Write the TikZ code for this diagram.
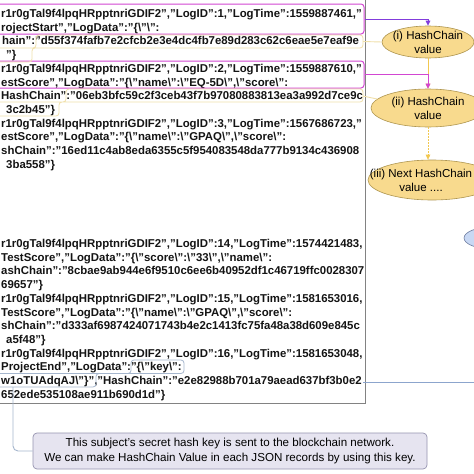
\documentclass[tikz,border=0pt]{standalone}
\usepackage{fontspec}
\setmainfont{Liberation Sans}
\usetikzlibrary{arrows.meta,shapes.geometric}
\definecolor{hlmag}{RGB}{210,70,210}
\definecolor{hlvio}{RGB}{130,60,220}
\definecolor{goldln}{RGB}{242,200,80}
\definecolor{ellfill}{RGB}{248,218,142}
\definecolor{elldraw}{RGB}{175,150,80}
\definecolor{beigeln}{RGB}{240,224,170}
\definecolor{keyblue}{RGB}{165,182,205}
\definecolor{boxgray}{RGB}{130,130,130}
\definecolor{callfill}{RGB}{230,228,240}
\definecolor{calldraw}{RGB}{150,148,175}
\definecolor{blfill}{RGB}{200,216,244}
\definecolor{bldraw}{RGB}{110,125,160}
\definecolor{blueln}{RGB}{140,165,205}
\newcommand{\bsl}{\textbackslash}
\begin{document}
\begin{tikzpicture}[x=1pt,y=-1pt,
  codeline/.style={anchor=base west, inner sep=0pt, text=black!92, font=\fontsize{11.4}{13}\selectfont\bfseries},
  hashell/.style={ellipse, draw=elldraw, fill=ellfill, line width=0.6pt, inner sep=0pt},
  elltext/.style={align=center, inner sep=0pt, font=\fontsize{11.5}{14}\selectfont},
  hlbox/.style={draw, rounded corners=3pt, line width=1pt, inner sep=0pt},
  conn/.style={line width=1pt, -{Triangle[length=5pt,width=4.5pt]}},
]
\useasboundingbox (0,0) rectangle (474,474);
\begin{scope}
\clip (0,0) rectangle (474,474);
\fill[white] (0,0) rectangle (474,474);
% big text box
\draw[boxgray, line width=0.8pt] (-5,-3) rectangle (365,403);
% code lines
\node[codeline] (l1) at (1,17.5) {r1r0gTal9f4lpqHRpptnriGDIF2","LogID":1,"LogTime":1559887461,"};
\node[codeline] (l2) at (1,31.2) {rojectStart","LogData":"\{\bsl"\bsl":};
\node[codeline] (l3) at (2,44.9) {hain":"d55f374fafb7e2cfcb2e3e4dc4fb7e89d283c62c6eae5e7eaf9e};
\node[codeline] (l4) at (6,58.6) {"\}};
\node[codeline] (l5) at (1,72.3) {r1r0gTal9f4lpqHRpptnriGDIF2","LogID":2,"LogTime":1559887610,"};
\node[codeline] (l6) at (1,86.0) {estScore","LogData":"\{\bsl"name\bsl":\bsl"EQ-5D\bsl",\bsl"score\bsl":};
\node[codeline] (l7) at (1,99.7) {HashChain":"06eb3bfc59c2f3ceb43f7b97080883813ea3a992d7ce9c};
\node[codeline] (l8) at (6,113.4) {3c2b45"\}};
\node[codeline] (l9) at (1,127.1) {r1r0gTal9f4lpqHRpptnriGDIF2","LogID":3,"LogTime":1567686723,"};
\node[codeline] (l10) at (1,140.8) {estScore","LogData":"\{\bsl"name\bsl":\bsl"GPAQ\bsl",\bsl"score\bsl":};
\node[codeline] (l11) at (1,154.5) {shChain":"16ed11c4ab8eda6355c5f954083548da777b9134c436908};
\node[codeline] (l12) at (6,168.2) {3ba558"\}};
\node[codeline] (l13) at (1,247.5) {r1r0gTal9f4lpqHRpptnriGDIF2","LogID":14,"LogTime":1574421483,};
\node[codeline] (l14) at (1,261.2) {TestScore","LogData":"\{\bsl"score\bsl":\bsl"33\bsl",\bsl"name\bsl":};
\node[codeline] (l15) at (1,274.9) {ashChain":"8cbae9ab944e6f9510c6ee6b40952df1c46719ffc0028307};
\node[codeline] (l16) at (1,288.6) {69657"\}};
\node[codeline] (l17) at (1,302.3) {r1r0gTal9f4lpqHRpptnriGDIF2","LogID":15,"LogTime":1581653016,};
\node[codeline] (l18) at (1,316.0) {TestScore","LogData":"\{\bsl"name\bsl":\bsl"GPAQ\bsl",\bsl"score\bsl":};
\node[codeline] (l19) at (1,329.7) {shChain":"d333af6987424071743b4e2c1413fc75fa48a38d609e845c};
\node[codeline] (l20) at (6,343.4) {a5f48"\}};
\node[codeline] (l21) at (1,357.1) {r1r0gTal9f4lpqHRpptnriGDIF2","LogID":16,"LogTime":1581653048,};
\node[codeline] (l22) at (1,370.8) {ProjectEnd","LogData":"\{\bsl"key\bsl":};
\node[codeline] (l23) at (1,384.5) {w1oTUAdqAJ\bsl"\}","HashChain":"e2e82988b701a79aead637bf3b0e2};
\node[codeline] (l24) at (1,398.2) {652ede535108ae911b690d1d"\}};
% highlight boxes (JSON records)
\node[hlbox, draw=hlmag, minimum width=370pt, minimum height=30pt] (hb1) at (179,19) {};
\node[hlbox, draw=hlmag, minimum width=370pt, minimum height=27pt] (hb2) at (179,74.5) {};
% hash chain outlines
\draw[beigeln, line width=0.8pt, rounded corners=3pt]
  (36,35) -- (363,35) -- (363,48) -- (32,48) -- (32,62) -- (-5,62) -- (-5,48) -- (36,48) -- cycle;
\draw[beigeln, line width=0.8pt, rounded corners=3pt]
  (66,89) -- (363,89) -- (363,102) -- (59,102) -- (59,116) -- (-5,116) -- (-5,102) -- (66,102) -- cycle;
\coordinate (h1) at (363,41.5);
\coordinate (h2) at (363,96);
% key outline
\draw[keyblue, line width=0.8pt, rounded corners=3pt]
  (131,360) -- (184,360) -- (184,373.5) -- (96,373.5) -- (96,387) -- (-5,387) -- (-5,373.5) -- (131,373.5) -- cycle;
\coordinate (k1) at (13,387);
% ellipses
\node[hashell, minimum width=92pt, minimum height=32pt] (e1) at (428,42) {};
\node[elltext] (t1) at (e1.center) {(i) HashChain\\value};
\node[hashell, minimum width=114pt, minimum height=38pt] (e2) at (428,108) {};
\node[elltext] (t2) at (e2.center) {(ii) HashChain\\value};
\node[hashell, minimum width=128pt, minimum height=40pt] (e3) at (432,180) {};
\node[elltext] (t3) at (421,180) {(iii) Next HashChain\\value ....};
\node[ellipse, draw=bldraw, fill=blfill, line width=0.6pt, minimum width=56pt, minimum height=22pt, inner sep=0pt] (e4) at (492,238) {};
% connectors
\draw[conn, hlvio] (hb1.east) -| (e1.north);
\draw[conn, goldln] (e1.south) -- (e2.north);
\draw[conn, hlmag] (hb2.east) -| (e2.north);
\draw[goldln, line width=0.8pt, dash pattern=on 1.5pt off 1.5pt, -{Triangle[length=5pt,width=4.5pt]}] (e2.south) -- (e2.south |- e3.north);
\draw[beigeln, line width=0.9pt] (h1) -- (e1.west);
\draw[beigeln, line width=0.9pt] (h2) -- (e2.170);
\coordinate (bl1) at (363,382);
\coordinate (bl2) at (480,382);
\draw[blueln, line width=0.9pt] (bl1) -- (bl2);
% callout
\node[draw=calldraw, fill=callfill, rounded corners=4pt, line width=0.7pt, minimum width=394pt, minimum height=36pt, align=center, inner sep=0pt, font=\fontsize{11.6}{14.5}\selectfont] (call) at (230,451) {This subject's secret hash key is sent to the blockchain network.\\We can make HashChain Value in each JSON records by using this key.};
\draw[keyblue, line width=0.9pt, rounded corners=5pt] (k1) |- (call.west);
\end{scope}
\end{tikzpicture}
\end{document}
